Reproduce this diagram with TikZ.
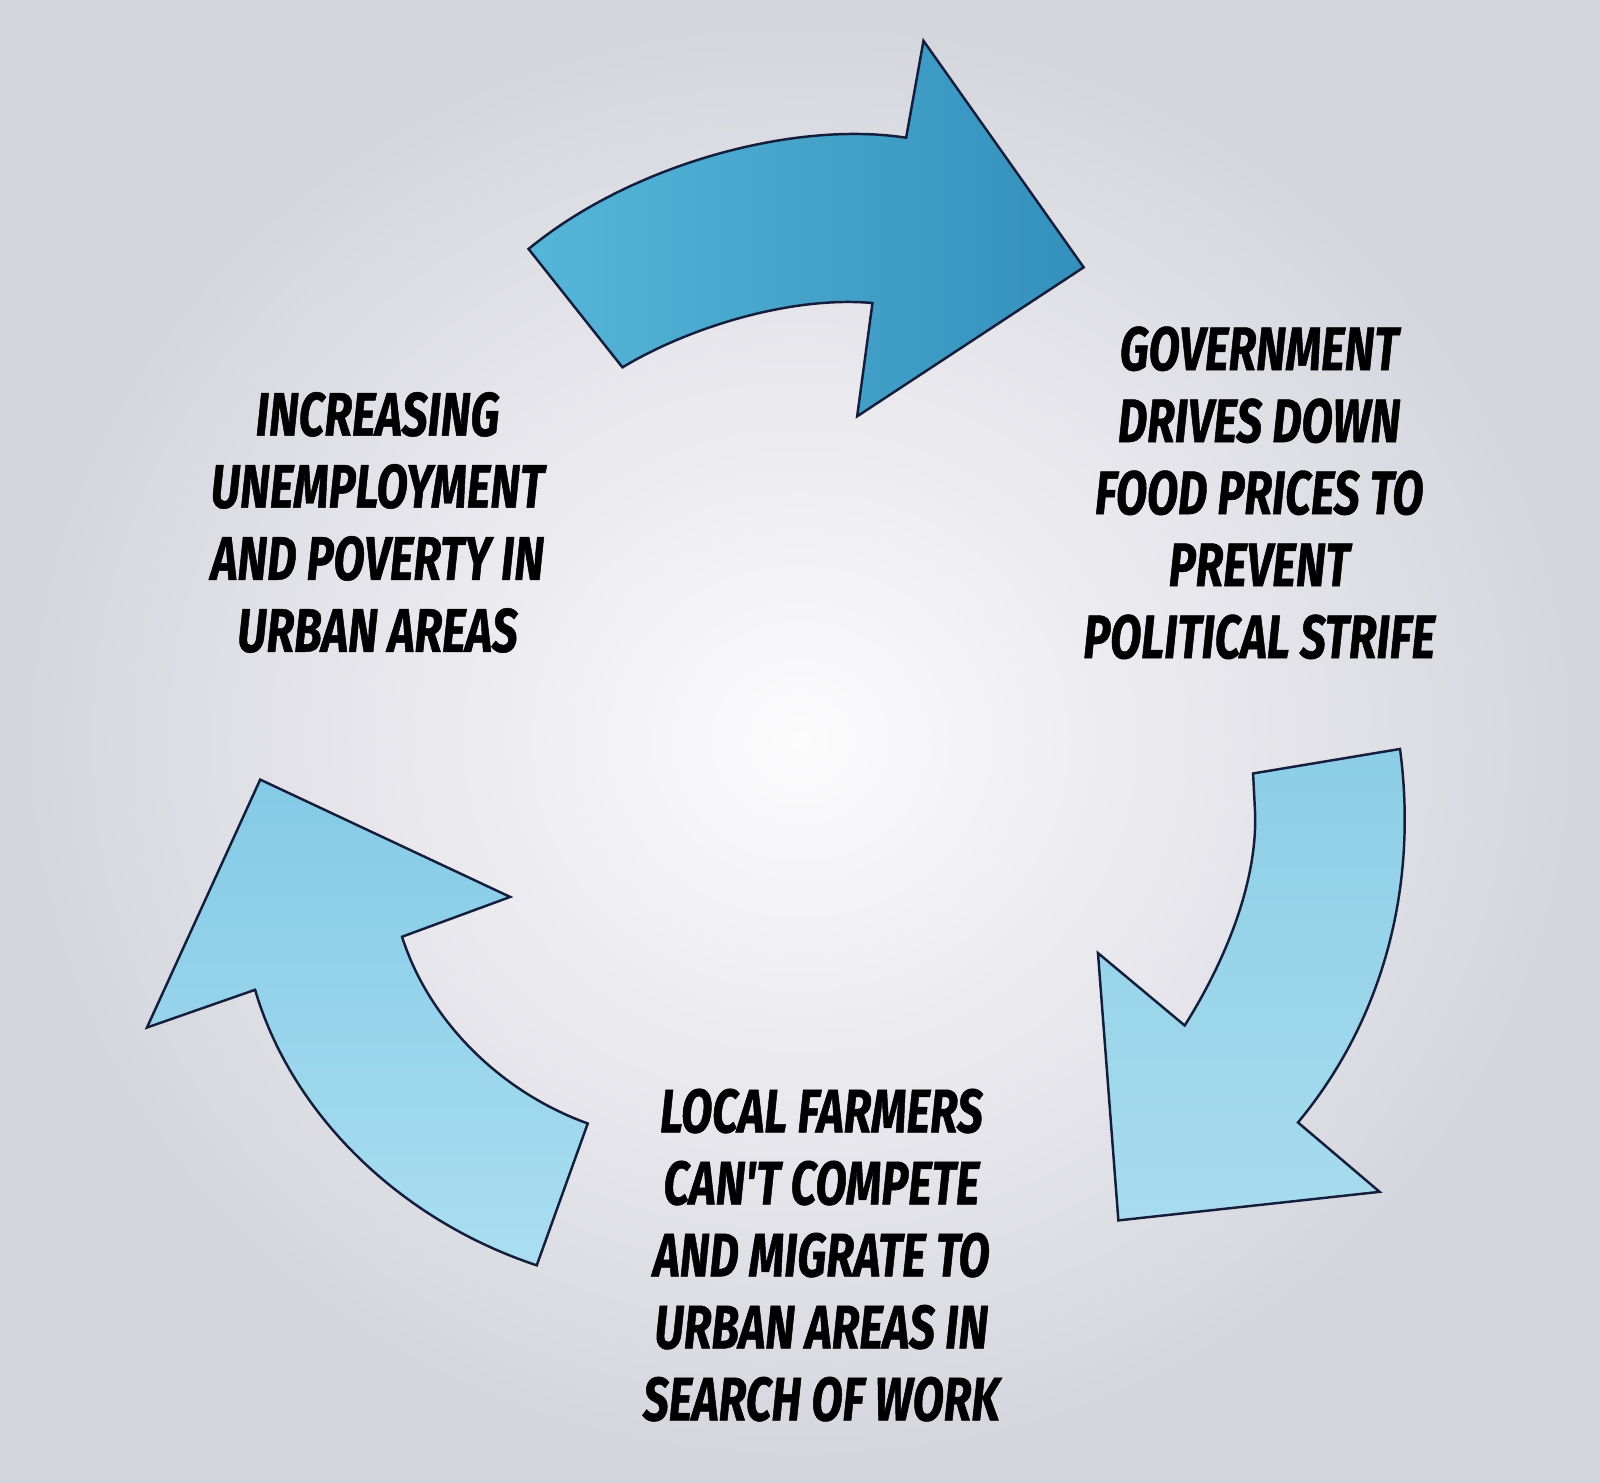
\documentclass[tikz,border=0pt]{standalone}
\usepackage{fontspec}
\newfontfamily\comicfont[FakeStretch=0.74, FakeBold=0.8]{Fira Sans}
\definecolor{bgout}{RGB}{212,212,221}
\definecolor{bgin}{RGB}{252,252,253}
\definecolor{edge}{RGB}{20,30,60}
\definecolor{topL}{RGB}{86,182,216}
\definecolor{topR}{RGB}{52,144,188}
\definecolor{rgtT}{RGB}{140,206,230}
\definecolor{rgtB}{RGB}{168,220,238}
\definecolor{lftT}{RGB}{132,202,230}
\definecolor{lftB}{RGB}{170,222,240}
\tikzset{
  arrowshape/.style={draw=edge, line width=0.7pt, line join=miter},
  label/.style={font=\comicfont\bfseries\itshape\fontsize{17.5}{20.5}\selectfont, align=center, text=black, inner sep=0pt}
}
\begin{document}
\begin{tikzpicture}[x=0.010204cm, y=-0.010204cm]
\useasboundingbox (0,0) rectangle (1568,1452.4);
\shade[inner color=bgin, outer color=bgout] (0,0) rectangle (1568,1452.4);
% top arrow
\shade[arrowshape, left color=topL, right color=topR]
  (518,244) -- (610,360) .. controls (680,318) and (780,290) .. (855,297)
  -- (840,408) -- (1062,262) -- (905,40) -- (888,135)
  .. controls (780,118) and (620,160) .. (518,244) -- cycle;
% right arrow
\shade[arrowshape, top color=rgtT, bottom color=rgtB]
  (1228,758) -- (1372,734) .. controls (1390,870) and (1355,1000) .. (1272,1100)
  -- (1352,1168) -- (1096,1196) -- (1076,934) -- (1161,1005)
  .. controls (1205,935) and (1232,860) .. (1230,797) -- cycle;
% left arrow
\shade[arrowshape, top color=lftT, bottom color=lftB]
  (255,764) -- (500,879) -- (394,918) .. controls (420,1000) and (490,1070) .. (576,1101)
  -- (526,1240) .. controls (390,1195) and (285,1090) .. (250,970)
  -- (144,1007) -- cycle;
% texts
\node[label] (urban) at (370,512) {INCREASING\\UNEMPLOYMENT\\AND POVERTY IN\\URBAN AREAS};
\node[label] (govt) at (1234,483) {GOVERNMENT\\DRIVES DOWN\\FOOD PRICES TO\\PREVENT\\POLITICAL STRIFE};
\node[label] (farm) at (805,1230) {LOCAL FARMERS\\CAN'T COMPETE\\AND MIGRATE TO\\URBAN AREAS IN\\SEARCH OF WORK};
\end{tikzpicture}
\end{document}
